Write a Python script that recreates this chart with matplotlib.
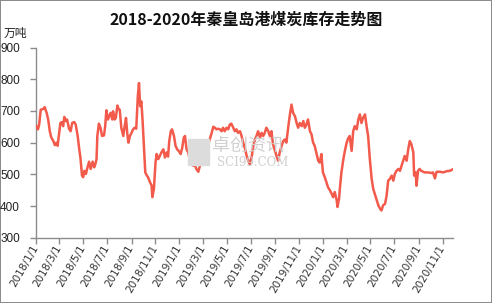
import matplotlib
matplotlib.use("Agg")
import matplotlib.pyplot as plt
import matplotlib.dates as mdates
import pandas as pd

# Qinhuangdao port coal stock, 10k tonnes
days_2018 = ["01-02", "01-06", "01-09", "01-13", "01-19", "01-23", "01-28", "02-01", "02-05", "02-09",
             "02-14", "02-18", "02-22", "02-25", "03-01", "03-04", "03-08", "03-11", "03-14", "03-18",
             "03-21", "03-26", "03-30", "04-03", "04-08", "04-12", "04-17", "04-21", "04-24", "04-28",
             "05-01", "05-04", "05-08", "05-11", "05-16", "05-20", "05-25", "05-29", "06-01", "06-04",
             "06-06", "06-10", "06-14", "06-18", "06-23", "06-26", "06-29", "07-03", "07-06", "07-10",
             "07-14", "07-16", "07-20", "07-23", "07-27", "07-30", "08-02", "08-06", "08-11", "08-14",
             "08-18", "08-21", "08-24", "08-28", "09-01", "09-05", "09-09", "09-13", "09-17", "09-20",
             "09-23", "09-26", "09-29", "10-03", "10-06", "10-10", "10-13", "10-18", "10-22", "10-24",
             "10-28", "11-01", "11-04", "11-08", "11-12", "11-16", "11-21", "11-25", "11-29", "12-03",
             "12-06", "12-10", "12-13", "12-18", "12-22", "12-26", "12-30"]
stock_2018 = [652, 642, 657, 704, 706, 712, 694, 673, 636, 616,
              605, 592, 600, 590, 631, 662, 665, 652, 681, 668,
              673, 644, 636, 662, 665, 657, 621, 579, 553, 496,
              491, 511, 501, 517, 540, 517, 540, 522, 532, 548,
              621, 660, 647, 621, 623, 652, 702, 673, 683, 694,
              673, 699, 673, 678, 717, 706, 704, 647, 621, 647,
              678, 631, 600, 621, 631, 642, 647, 644, 746, 788,
              715, 730, 673, 579, 506, 496, 491, 475, 465, 428,
              454, 537, 564, 548, 558, 569, 579, 553, 569, 556,
              605, 636, 642, 621, 590, 579, 574]

days_2019 = ["01-04", "01-08", "01-12", "01-15", "01-19", "01-23", "01-27", "02-01", "02-05", "02-09",
             "02-13", "02-18", "02-22", "02-26", "03-02", "03-07", "03-11", "03-15", "03-19", "03-24",
             "03-28", "04-01", "04-05", "04-09", "04-14", "04-18", "04-22", "04-26", "05-01", "05-05",
             "05-09", "05-13", "05-18", "05-22", "05-26", "05-30", "06-04", "06-08", "06-12", "06-16",
             "06-21", "06-25", "06-29", "07-04", "07-08", "07-12", "07-16", "07-20", "07-25", "07-29",
             "08-02", "08-06", "08-10", "08-15", "08-19", "08-23", "08-27", "09-01", "09-05", "09-09",
             "09-13", "09-18", "09-22", "09-26", "09-30", "10-05", "10-09", "10-13", "10-17", "10-22",
             "10-26", "10-30", "11-03", "11-08", "11-12", "11-16", "11-20", "11-24", "11-29", "12-03",
             "12-07", "12-11", "12-16", "12-20", "12-24", "12-28"]
stock_2019 = [564, 584, 616, 621, 579, 569, 548, 532, 527, 529,
              517, 508, 527, 543, 548, 558, 569, 595, 610, 631,
              650, 647, 642, 644, 642, 636, 647, 636, 647, 642,
              657, 660, 647, 636, 642, 631, 636, 621, 600, 585,
              558, 543, 532, 558, 590, 610, 621, 636, 616, 631,
              621, 631, 647, 636, 621, 636, 595, 574, 558, 543,
              569, 590, 605, 610, 600, 652, 689, 720, 694, 683,
              662, 647, 662, 652, 668, 647, 657, 673, 636, 626,
              600, 590, 564, 543, 537, 564]

days_2020 = ["01-01", "01-06", "01-10", "01-14", "01-19", "01-23", "01-27", "01-31", "02-05", "02-07",
             "02-11", "02-13", "02-17", "02-22", "02-26", "03-01", "03-05", "03-09", "03-14", "03-18",
             "03-22", "03-27", "03-31", "04-04", "04-08", "04-12", "04-17", "04-21", "04-25", "04-29",
             "05-04", "05-08", "05-12", "05-16", "05-21", "05-25", "05-29", "06-02", "06-07", "06-11",
             "06-15", "06-19", "06-24", "06-28", "07-02", "07-06", "07-11", "07-15", "07-19", "07-23",
             "07-27", "08-01", "08-05", "08-09", "08-13", "08-18", "08-20", "08-24", "08-26", "08-30",
             "09-03", "09-07", "09-16", "09-25", "10-03", "10-07", "10-12", "10-16", "10-25", "11-02",
             "11-11", "11-19", "11-25"]
stock_2020 = [506, 490, 475, 459, 449, 439, 428, 444, 418, 397,
              423, 454, 506, 548, 575, 598, 613, 621, 574, 636,
              652, 642, 673, 689, 662, 678, 689, 652, 621, 553,
              485, 454, 438, 423, 402, 392, 386, 402, 407, 433,
              480, 485, 496, 480, 501, 511, 517, 511, 527, 543,
              558, 543, 579, 605, 595, 569, 496, 506, 464, 511,
              517, 511, 506, 506, 504, 506, 487, 508, 508, 506,
              510, 511, 515]

tick_dates = pd.date_range("2018-01-01", "2020-11-01", freq="2MS")

dates = pd.to_datetime(["2018-" + d for d in days_2018] +
                       ["2019-" + d for d in days_2019] +
                       ["2020-" + d for d in days_2020])
stock = stock_2018 + stock_2019 + stock_2020

fig = plt.figure(figsize=(4.92, 3.03), dpi=100, linewidth=1.2, edgecolor="#8c8c8c")
ax = fig.add_axes([0.0732, 0.2155, 0.8468, 0.6275])

ax.plot(dates, stock, color="#f25a4c", lw=1.8, zorder=3)

ax.set_ylim(300, 900)
ax.set_yticks(range(300, 901, 100))
ax.set_xlim(pd.Timestamp("2018-01-01"), pd.Timestamp("2020-11-26"))
ax.set_xticks(tick_dates)
ax.xaxis.set_major_formatter(mdates.DateFormatter("%Y/%-m/%-d"))

for s in ["top", "right"]:
    ax.spines[s].set_visible(False)
for s in ["left", "bottom"]:
    ax.spines[s].set_color("#8c8c8c")
    ax.spines[s].set_linewidth(1.0)

ax.tick_params(axis="both", colors="#8c8c8c", length=4, width=1.0, direction="out")
ax.tick_params(axis="y", labelcolor="#222222", labelsize=8.5, pad=7.5)
ax.tick_params(axis="x", labelcolor="#333333", labelsize=7.5, pad=2)
for lab in ax.get_yticklabels():
    lab.set_family("Liberation Sans")
for lab in ax.get_xticklabels():
    lab.set_rotation(60)
    lab.set_ha("right")
    lab.set_va("center")
    lab.set_rotation_mode("anchor")

cjk = ["Noto Sans CJK SC", "DejaVu Sans"]
fig.text(0.5, 1 - 20 / 303, "2018-2020年秦皇岛港煤炭库存走势图", ha="center", va="center",
         fontsize=11.5, fontweight="bold", family=cjk, color="#111111")
fig.text(0.008, 1 - 33 / 303, "万吨", ha="left", va="center", fontsize=8.5, family=cjk,
         color="#222222")

# faint watermark behind the line
fig.patches.append(plt.Rectangle((188 / 492, 1 - 165 / 303), 21 / 492, 26 / 303,
                                 transform=fig.transFigure, color="#dcdcdc", zorder=1))
fig.text(212 / 492, 1 - 146 / 303, "卓创资讯", ha="left", va="center", fontsize=13,
         family=cjk, color="#d0d0d0", zorder=1)
fig.text(217 / 492, 1 - 162.5 / 303, "SCI99.COM", ha="left", va="center", fontsize=8.5,
         family="DejaVu Serif", color="#d0d0d0", zorder=1)

fig.savefig("out.png", dpi=100)
